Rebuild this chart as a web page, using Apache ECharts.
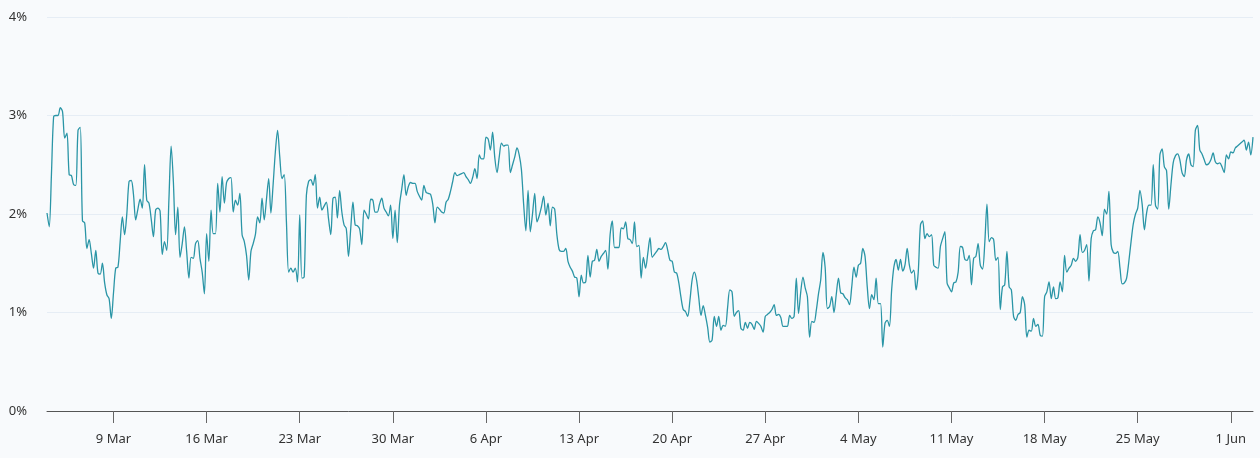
<!DOCTYPE html>
<html>
<head>
<meta charset="utf-8">
<script src="https://cdn.jsdelivr.net/npm/echarts@6/dist/echarts.min.js"></script>
<style>
html,body{margin:0;padding:0;background:#f8fafc;}
#chart{width:1260px;height:458px;}
</style>
</head>
<body>
<div id="chart"></div>
<script>
// Series: one reading every 4 hours starting 4 Mar 2020 00:00
const seriesStart = [2020, 3, 4];
const stepHours = 4;
const rateValues = [
2.01,1.87,2.40,2.99,3.00,3.00,3.08,3.04,2.77,2.82,
2.40,2.39,2.30,2.29,2.85,2.88,1.93,1.91,1.65,1.74,
1.60,1.45,1.63,1.40,1.39,1.50,1.30,1.18,1.14,0.94,
1.20,1.45,1.46,1.72,1.97,1.79,2.00,2.33,2.34,2.20,
1.94,2.05,2.15,2.06,2.50,2.14,2.11,1.95,1.77,2.04,
2.06,2.03,1.59,1.72,1.63,2.15,2.69,2.33,1.79,2.07,
1.56,1.70,1.87,1.62,1.35,1.56,1.55,1.70,1.73,1.55,
1.41,1.19,1.80,1.52,2.04,1.80,1.80,2.31,2.02,2.38,
2.11,2.32,2.36,2.37,2.02,2.14,2.09,2.21,1.79,1.72,
1.58,1.33,1.62,1.70,1.79,1.97,1.91,2.16,1.94,2.15,
2.36,2.01,2.30,2.63,2.85,2.58,2.36,2.40,1.92,1.41,
1.45,1.41,1.45,1.31,1.99,1.35,1.36,2.19,2.33,2.35,
2.29,2.40,2.06,2.17,2.04,2.08,2.12,1.95,1.79,2.16,
2.17,1.96,2.24,2.02,1.89,1.85,1.57,1.85,2.12,1.89,
1.88,1.85,1.69,2.04,2.00,1.95,2.15,2.14,2.02,2.02,
2.10,2.16,2.06,2.02,1.98,2.09,1.75,2.04,1.71,2.09,
2.25,2.40,2.19,2.28,2.32,2.31,2.31,2.23,2.18,2.14,
2.29,2.22,2.21,2.20,2.10,1.91,2.07,2.05,2.02,2.01,
2.12,2.15,2.23,2.33,2.42,2.39,2.40,2.41,2.42,2.38,
2.35,2.31,2.37,2.46,2.36,2.60,2.56,2.56,2.78,2.76,
2.65,2.83,2.57,2.42,2.58,2.72,2.69,2.70,2.70,2.42,
2.50,2.58,2.67,2.60,2.45,2.10,1.83,2.24,1.82,2.00,
2.21,1.92,1.98,2.07,2.18,1.99,2.11,1.88,2.07,2.05,
1.79,1.64,1.62,1.62,1.65,1.52,1.46,1.42,1.36,1.35,
1.16,1.38,1.30,1.31,1.58,1.36,1.52,1.53,1.64,1.52,
1.57,1.60,1.63,1.44,1.79,1.93,1.66,1.66,1.66,1.86,
1.85,1.92,1.75,1.74,1.70,1.92,1.67,1.68,1.35,1.56,
1.45,1.60,1.76,1.56,1.59,1.62,1.65,1.64,1.67,1.71,
1.63,1.53,1.52,1.41,1.40,1.30,1.15,1.03,1.01,0.96,
1.12,1.33,1.41,1.33,1.15,0.97,1.07,0.97,0.85,0.70,
0.72,0.96,0.86,0.96,0.82,0.87,0.86,1.05,1.23,1.21,
0.96,1.00,1.02,0.84,0.82,0.90,0.84,0.90,0.88,0.83,
0.91,0.89,0.86,0.80,0.96,0.98,1.00,1.03,1.08,0.97,
0.98,0.95,0.86,0.86,0.86,0.97,0.94,0.96,1.35,0.99,
1.21,1.36,1.25,1.16,0.75,0.91,0.90,1.02,1.19,1.33,
1.61,1.46,1.04,1.06,1.16,1.00,1.18,1.35,1.20,1.19,
1.15,1.13,1.08,1.26,1.46,1.36,1.48,1.50,1.65,1.57,
1.26,1.04,1.18,1.13,1.35,1.09,1.09,0.65,0.89,0.92,
0.86,1.23,1.46,1.54,1.43,1.54,1.42,1.48,1.65,1.48,
1.40,1.43,1.23,1.41,1.89,1.93,1.75,1.80,1.77,1.79,
1.48,1.46,1.45,1.67,1.75,1.82,1.30,1.25,1.21,1.30,
1.31,1.41,1.67,1.66,1.54,1.53,1.58,1.28,1.55,1.57,
1.70,1.48,1.44,1.70,2.10,1.72,1.76,1.74,1.53,1.56,
1.03,1.26,1.28,1.62,1.26,1.23,0.96,0.92,0.98,1.00,
1.16,1.08,0.75,0.82,0.81,0.94,0.86,0.88,0.77,0.76,
1.16,1.21,1.31,1.14,1.26,1.14,1.15,1.31,1.21,1.58,
1.41,1.45,1.48,1.55,1.52,1.56,1.79,1.61,1.63,1.69,
1.32,1.75,1.83,1.84,1.97,1.91,1.78,2.05,2.00,2.23,
1.69,1.61,1.60,1.62,1.45,1.29,1.30,1.35,1.52,1.72,
1.90,2.00,2.06,2.24,2.10,1.84,2.01,2.09,2.09,2.50,
2.09,2.05,2.60,2.66,2.48,2.44,2.05,2.30,2.52,2.59,
2.61,2.55,2.42,2.38,2.55,2.61,2.50,2.48,2.85,2.90,
2.65,2.61,2.55,2.50,2.51,2.55,2.62,2.53,2.51,2.52,
2.48,2.42,2.60,2.56,2.63,2.62,2.67,2.69,2.71,2.73,
2.75,2.65,2.73,2.60,2.78
];
const tickDates = [[2020,3,9],[2020,3,16],[2020,3,23],[2020,3,30],[2020,4,6],[2020,4,13],[2020,4,20],[2020,4,27],[2020,5,4],[2020,5,11],[2020,5,18],[2020,5,25],[2020,6,1]];
const tickLabels = ['9 Mar','16 Mar','23 Mar','30 Mar','6 Apr','13 Apr','20 Apr','27 Apr','4 May','11 May','18 May','25 May','1 Jun'];
const yTicks = [0, 1, 2, 3, 4];

const t0 = new Date(seriesStart[0], seriesStart[1]-1, seriesStart[2]).getTime();
const stepMs = stepHours * 3600 * 1000;
const seriesData = rateValues.map((v, i) => [t0 + i * stepMs, v]);
const tickTimes = tickDates.map(d => new Date(d[0], d[1]-1, d[2]).getTime());

const chart = echarts.init(document.getElementById('chart'), null, {renderer: 'canvas'});
const font = '"Noto Sans", "Open Sans", sans-serif';
chart.setOption({
  backgroundColor: '#f8fafc',
  animation: false,
  grid: {left: 47, right: 7, top: 17, bottom: 47, containLabel: false},
  xAxis: {
    type: 'value',
    min: seriesData[0][0],
    max: seriesData[seriesData.length - 1][0],
    axisLine: {show: true, onZero: false, lineStyle: {color: '#555', width: 1}},
    axisTick: {show: true, length: 12, lineStyle: {color: '#666'}, customValues: tickTimes},
    axisLabel: {
      customValues: tickTimes,
      color: '#333',
      fontSize: 13,
      fontFamily: font,
      margin: 22,
      showMinLabel: true,
      showMaxLabel: true,
      formatter: function (val) {
        const idx = tickTimes.indexOf(val);
        return idx >= 0 ? tickLabels[idx] : '';
      }
    },
    splitLine: {show: false}
  },
  yAxis: {
    type: 'value',
    min: yTicks[0],
    max: yTicks[yTicks.length - 1],
    interval: 1,
    axisLine: {show: false},
    axisTick: {show: false},
    axisLabel: {color: '#333', fontSize: 13, fontFamily: font, margin: 20, formatter: '{value}%'},
    splitLine: {show: true, lineStyle: {color: '#e6edf5', width: 1}}
  },
  series: [{
    type: 'line',
    data: seriesData,
    showSymbol: false,
    symbol: 'none',
    smooth: 0.3,
    lineStyle: {color: '#2a95a6', width: 1.3},
    itemStyle: {color: '#2a95a6'}
  }]
});
</script>
</body>
</html>
